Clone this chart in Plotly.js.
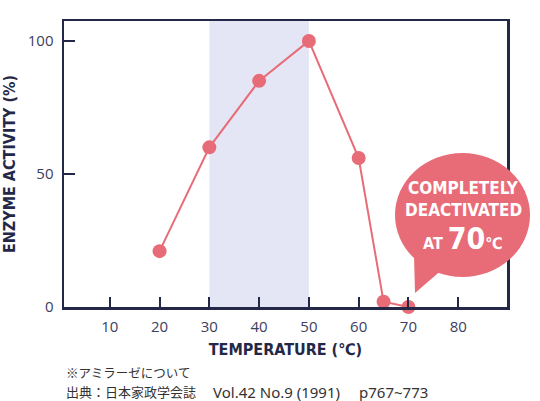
<!DOCTYPE html>
<html><head><meta charset="utf-8">
<script src="https://cdn.plot.ly/plotly-3.0.1.min.js"></script>
<style>html,body{margin:0;padding:0;background:#fff;}#chart{width:540px;height:401px;}</style>
</head><body><div id="chart"></div>
<script>
const temperatures = [20, 30, 40, 50, 60, 65, 70];
const activity = [21, 60, 85, 100, 56, 2, 0];
const xTicks = [10, 20, 30, 40, 50, 60, 70, 80];
const yTicks = [0, 50, 100];
const optimumRange = [30, 50];
const xTitle = 'TEMPERATURE (℃)';
const yTitle = 'ENZYME ACTIVITY (%)';
const bubbleLines = ['COMPLETELY', 'DEACTIVATED'];
const bubbleAt = ['AT ', '70', '℃'];
const note1 = '※アミラーゼについて';
const note2 = '出典：日本家政学会誌　Vol.42 No.9 (1991)　p767~773';

const red = '#e86c77';
const navy = '#242847';
const tickColor = '#3c405e';
const condensed = '"DejaVu Sans Condensed", "Liberation Sans Narrow", "Roboto", sans-serif';
const jp = '"Noto Sans CJK JP", sans-serif';
const latin = '"Noto Sans", "Open Sans", sans-serif';

const trace = {
  x: temperatures, y: activity, type: 'scatter', mode: 'lines+markers',
  line: {color: red, width: 2},
  marker: {color: red, size: 14},
  cliponaxis: false, hoverinfo: 'skip'
};

// paper coords helpers (plot area: 64..507 px, 21..307 px)
const W = 443, H = 286;
const px = v => (v - 64) / W;
const py = v => (307 - v) / H;

const noteParts = note2.split('　');
const annotations = [
  {xref: 'paper', yref: 'paper', x: px(463), y: py(188), xanchor: 'center', yanchor: 'middle', showarrow: false,
   text: '<b>' + bubbleLines[0] + '</b>', font: {family: condensed, size: 17, color: '#fff'}},
  {xref: 'paper', yref: 'paper', x: px(463), y: py(210), xanchor: 'center', yanchor: 'middle', showarrow: false,
   text: '<b>' + bubbleLines[1] + '</b>', font: {family: condensed, size: 17, color: '#fff'}},
  {xref: 'paper', yref: 'paper', x: px(463), y: py(258), xanchor: 'center', yanchor: 'bottom', showarrow: false,
   text: '<b>' + bubbleAt[0] + '</b><b style="font-size:30px">' + bubbleAt[1] + '</b><b>' + bubbleAt[2] + '</b>',
   font: {family: condensed, size: 16, color: '#fff'}},
  {xref: 'paper', yref: 'paper', x: px(64), y: py(372), xanchor: 'left', yanchor: 'middle', showarrow: false,
   text: note1, font: {family: jp, size: 12.5, color: '#333'}},
  {xref: 'paper', yref: 'paper', x: px(64), y: py(392), xanchor: 'left', yanchor: 'middle', showarrow: false,
   text: noteParts[0], font: {family: jp, size: 13, color: '#333'}},
  {xref: 'paper', yref: 'paper', x: px(211), y: py(392), xanchor: 'left', yanchor: 'middle', showarrow: false,
   text: noteParts[1], font: {family: latin, size: 15, color: '#333'}},
  {xref: 'paper', yref: 'paper', x: px(357), y: py(392), xanchor: 'left', yanchor: 'middle', showarrow: false,
   text: noteParts[2], font: {family: latin, size: 15, color: '#333'}}
];

const layout = {
  width: 540, height: 401,
  margin: {l: 64, r: 33, t: 21, b: 94},
  paper_bgcolor: '#fff', plot_bgcolor: '#fff',
  showlegend: false,
  xaxis: {
    range: [0.8, 89.8], tickvals: xTicks, ticktext: xTicks.map(String),
    ticks: 'inside', ticklen: 10, tickwidth: 2, tickcolor: navy,
    showline: true, mirror: true, linecolor: navy, linewidth: 2.5,
    showgrid: false, zeroline: false,
    tickfont: {family: '"Open Sans", sans-serif', size: 15, color: tickColor},
    ticklabelstandoff: 4,
    title: {text: xTitle, font: {family: condensed, size: 16, color: navy, weight: 'bold'}, standoff: 10}
  },
  yaxis: {
    range: [0, 107.5], tickvals: yTicks, ticktext: yTicks.map(String),
    ticks: 'inside', ticklen: 11, tickwidth: 2, tickcolor: navy,
    showline: true, mirror: true, linecolor: navy, linewidth: 2.5,
    showgrid: false, zeroline: false,
    tickfont: {family: '"Open Sans", sans-serif', size: 15, color: tickColor},
    ticklabelstandoff: 5,
    title: {text: yTitle, font: {family: condensed, size: 16, color: navy, weight: 'bold'}, standoff: 11}
  },
  shapes: [
    {type: 'rect', xref: 'x', yref: 'paper', x0: optimumRange[0], x1: optimumRange[1], y0: 0, y1: 1,
     fillcolor: '#e4e6f5', line: {width: 0}, layer: 'below'},
    {type: 'circle', xref: 'paper', yref: 'paper', x0: px(395), x1: px(530), y0: py(277), y1: py(153),
     fillcolor: red, line: {width: 0}, layer: 'above'},
    {type: 'path', xref: 'paper', yref: 'paper',
     path: 'M ' + px(414) + ' ' + py(255) + ' L ' + px(415) + ' ' + py(293) + ' L ' + px(444) + ' ' + py(268) + ' Z',
     fillcolor: red, line: {width: 0}, layer: 'above'}
  ],
  annotations: annotations
};

Plotly.newPlot('chart', [trace], layout, {staticPlot: true, displayModeBar: false});
</script></body></html>
